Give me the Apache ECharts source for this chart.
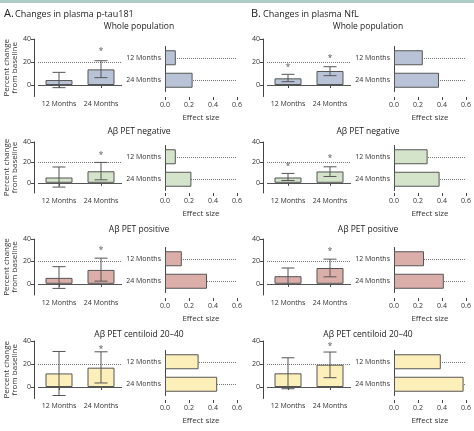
<!DOCTYPE html>
<html>
<head>
<meta charset="utf-8">
<script src="https://cdn.jsdelivr.net/npm/echarts@6/dist/echarts.min.js"></script>
<style>
html, body { margin: 0; padding: 0; background: #fff; }
#main { width: 474px; height: 431px; }
</style>
</head>
<body>
<div id="main"></div>
<script>
var months = ['12 Months', '24 Months'];
var groups = ['Whole population', 'Aβ PET negative', 'Aβ PET positive', 'Aβ PET centiloid 20–40'];
var yTicks = [0, 20, 40];

// A. plasma p-tau181 (percent change, 95% CI, star position, effect size)
var ptauMean = [[4.3, 13.6], [5.2, 11.3], [5.3, 12.4], [11.8, 16.8]];
var ptauLow = [[-2.3, 6.4], [-4.2, 2.9], [-4.1, 2.4], [-7.4, 3.5]];
var ptauHigh = [[11, 21.1], [15.5, 20], [15.3, 22.9], [30.9, 30.6]];
var ptauStar = [[null, 31], [null, 29], [null, 31.2], [null, 34.7]];
var ptauEffect = [[0.09, 0.23], [0.09, 0.22], [0.14, 0.35], [0.28, 0.435]];

// B. plasma NfL
var nflMean = [[5.8, 12.2], [5.2, 11.1], [6.8, 14.1], [11.9, 19.4]];
var nflLow = [[2.9, 8.1], [2.3, 6.2], [-0.6, 6.2], [-1.5, 8.1]];
var nflHigh = [[9.3, 15.9], [9.2, 15.7], [14.1, 22], [25.4, 30.4]];
var nflStar = [[16.8, 24.6], [18, 25.6], [null, 30.3], [null, 37]];
var nflEffect = [[0.24, 0.375], [0.28, 0.38], [0.25, 0.415], [0.39, 0.58]];

var panels = [
  { mean: ptauMean, low: ptauLow, high: ptauHigh, star: ptauStar, effect: ptauEffect },
  { mean: nflMean, low: nflLow, high: nflHigh, star: nflStar, effect: nflEffect }
];

// layout
var fills = ['#b9c3d7', '#d4e4ca', '#dcaeaa', '#fcefba'];
var rowBarTop = [39, 142, 239, 341];
var rowBarBottom = [96.5, 193, 295, 398.5];
var rowEffTop = [43, 142, 244, 347];
var rowEffBottom = [97, 193, 298, 400];
var rowTitleY = [27, 132, 230, 335];
var panelShift = [0, 229];
var font = 'Open Sans';
var ink = '#333';
var axisCol = '#444';

var grids = [], xAxes = [], yAxes = [], series = [];

for (var r = 0; r < 4; r++) {
  for (var p = 0; p < 2; p++) {
    var dx = panelShift[p];
    var d = panels[p];

    // percent change bar chart
    var gi = grids.length;
    grids.push({ left: 38 + dx, width: 84, top: rowBarTop[r], height: rowBarBottom[r] - rowBarTop[r] });
    xAxes.push({
      type: 'category', gridIndex: gi, data: months,
      axisLine: { show: false },
      axisTick: { show: true, alignWithLabel: true, length: 3, lineStyle: { color: axisCol } },
      axisLabel: { interval: 0, hideOverlap: false, fontSize: 7, color: ink, margin: 4, fontFamily: font }
    });
    yAxes.push({
      type: 'value', gridIndex: gi, min: -10, max: 40, offset: 4,
      axisLine: { show: true, lineStyle: { color: axisCol } },
      axisTick: { show: true, length: 3, customValues: yTicks, lineStyle: { color: axisCol } },
      axisLabel: { customValues: yTicks, fontSize: 7, color: ink, margin: 3, fontFamily: font },
      splitLine: { show: false },
      name: p === 0 ? 'Percent change\nfrom baseline' : '',
      nameLocation: 'middle', nameGap: 14,
      nameTextStyle: { fontSize: 8, lineHeight: 8, color: ink, fontFamily: font }
    });
    series.push({
      type: 'bar', xAxisIndex: gi, yAxisIndex: gi, data: d.mean[r], barWidth: 27,
      itemStyle: { color: fills[r], borderColor: '#555', borderWidth: 1 },
      markLine: {
        silent: true, symbol: 'none', z: 1, label: { show: false },
        data: [
          { yAxis: 0, lineStyle: { color: '#555', type: 'solid', width: 1.2 } },
          { yAxis: 20, lineStyle: { color: '#777', type: 'dotted', width: 1 } }
        ]
      }
    });
    series.push({
      type: 'custom', xAxisIndex: gi, yAxisIndex: gi, z: 3,
      data: months.map(function (m, i) { return [i, d.low[r][i], d.high[r][i]]; }),
      renderItem: function (params, api) {
        var x = api.value(0);
        var lo = api.coord([x, api.value(1)]);
        var hi = api.coord([x, api.value(2)]);
        var w = 6.5;
        var st = { stroke: '#555', lineWidth: 1 };
        return {
          type: 'group',
          children: [
            { type: 'line', shape: { x1: lo[0], y1: lo[1], x2: hi[0], y2: hi[1] }, style: st },
            { type: 'line', shape: { x1: lo[0] - w, y1: lo[1], x2: lo[0] + w, y2: lo[1] }, style: st },
            { type: 'line', shape: { x1: hi[0] - w, y1: hi[1], x2: hi[0] + w, y2: hi[1] }, style: st }
          ]
        };
      }
    });
    var stars = [];
    d.star[r].forEach(function (v, i) { if (v !== null) stars.push([i, v]); });
    series.push({
      type: 'scatter', xAxisIndex: gi, yAxisIndex: gi, data: stars, symbolSize: 1,
      itemStyle: { color: 'transparent' },
      label: { show: true, position: 'inside', formatter: '*', fontSize: 9, color: ink, offset: [0, 2], fontFamily: font }
    });

    // effect size chart
    var ge = grids.length;
    var eTop = rowEffTop[r] + 3.5;
    grids.push({ left: 165 + dx, width: 72, top: eTop, height: 45 });
    xAxes.push({
      type: 'value', gridIndex: ge, min: 0, max: 0.6, interval: 0.2,
      offset: rowEffBottom[r] - (eTop + 45),
      axisLine: { show: false },
      axisTick: { show: true, length: 3, lineStyle: { color: axisCol } },
      axisLabel: { fontSize: 7, color: ink, margin: 4, fontFamily: font, formatter: function (v) { return v.toFixed(1); } },
      splitLine: { show: false },
      name: 'Effect size', nameLocation: 'middle', nameGap: 17,
      nameTextStyle: { fontSize: 8, color: ink, fontFamily: font }
    });
    yAxes.push({
      type: 'category', gridIndex: ge, data: months, inverse: true,
      axisLine: { show: true, lineStyle: { color: axisCol } },
      axisTick: { show: false },
      axisLabel: { interval: 0, fontSize: 7, color: ink, margin: 4, fontFamily: font }
    });
    series.push({
      type: 'bar', xAxisIndex: ge, yAxisIndex: ge, data: d.effect[r], barWidth: 15,
      itemStyle: { color: fills[r], borderColor: '#555', borderWidth: 1 },
      markLine: {
        silent: true, symbol: 'none', z: 1, label: { show: false },
        lineStyle: { color: '#777', type: 'dotted', width: 1 },
        data: months.map(function (m, i) { return [{ coord: [0, i] }, { coord: [0.6, i] }]; })
      }
    });
  }
}

var graphics = [
  { type: 'rect', shape: { x: 0, y: 0, width: 474, height: 3 }, style: { fill: '#aecbc6' } },
  { type: 'text', x: 4, y: 14, style: { text: 'A.', font: '11px "Open Sans"', fill: '#222', verticalAlign: 'middle' } },
  { type: 'text', x: 15, y: 14.5, style: { text: 'Changes in plasma p-tau181', font: '9px "Open Sans"', fill: '#222', verticalAlign: 'middle' } },
  { type: 'text', x: 251, y: 14, style: { text: 'B.', font: '11px "Open Sans"', fill: '#222', verticalAlign: 'middle' } },
  { type: 'text', x: 263, y: 14.5, style: { text: 'Changes in plasma NfL', font: '9px "Open Sans"', fill: '#222', verticalAlign: 'middle' } }
];
groups.forEach(function (g, r) {
  [139, 368].forEach(function (cx) {
    graphics.push({ type: 'text', x: cx, y: rowTitleY[r], style: { text: g, font: '8.5px "Open Sans"', fill: '#222', align: 'center', verticalAlign: 'middle' } });
  });
});

var chart = echarts.init(document.getElementById('main'));
chart.setOption({
  animation: false,
  backgroundColor: '#fff',
  textStyle: { fontFamily: font },
  grid: grids,
  xAxis: xAxes,
  yAxis: yAxes,
  series: series,
  graphic: graphics
});
</script>
</body>
</html>
